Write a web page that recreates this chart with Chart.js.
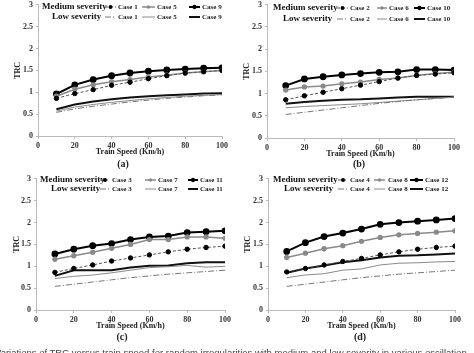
<!DOCTYPE html>
<html>
<head>
<meta charset="utf-8">
<script src="https://cdn.jsdelivr.net/npm/chart.js@4.4.1/dist/chart.umd.min.js"></script>
<style>
  body { margin: 0; background: #fff; width: 474px; height: 353px; overflow: hidden; position: relative; }
  .panel { position: absolute; }
  .sub { position: absolute; font: bold 10px "Liberation Serif", serif; color: #222; width: 40px; text-align: center; }
  #caption { position: absolute; left: -5px; top: 347px; white-space: nowrap; font: 9.5px "Liberation Sans", sans-serif; color: #444; }
</style>
</head>
<body>
<div class="panel" style="left:0;top:-3px"><canvas id="chartA" width="237" height="163"></canvas></div>
<div class="panel" style="left:237px;top:-3px"><canvas id="chartB" width="237" height="165"></canvas></div>
<div class="panel" style="left:0;top:171px"><canvas id="chartC" width="237" height="163"></canvas></div>
<div class="panel" style="left:237px;top:171px"><canvas id="chartD" width="237" height="163"></canvas></div>
<div class="sub" style="left:103px;top:158px">(a)</div>
<div class="sub" style="left:339px;top:158px">(b)</div>
<div class="sub" style="left:102px;top:331px">(c)</div>
<div class="sub" style="left:340px;top:331px">(d)</div>
<div id="caption">Variations of TRC versus train speed for random irregularities with medium and low severity in various oscillation</div>
<script>
// vitesses (axe X) et graduations
const speeds = [10, 20, 30, 40, 50, 60, 70, 80, 90, 100];
const xTicks = [0, 20, 40, 60, 80, 100];
const yTicks = [0, 0.5, 1, 1.5, 2, 2.5, 3];

// (a) cas 1, 5, 9
const medCase1 = [0.86, 0.97, 1.06, 1.16, 1.23, 1.31, 1.38, 1.44, 1.47, 1.50];
const medCase5 = [0.91, 1.07, 1.17, 1.24, 1.29, 1.35, 1.39, 1.44, 1.47, 1.50];
const medCase9 = [0.96, 1.17, 1.29, 1.38, 1.44, 1.48, 1.51, 1.53, 1.55, 1.56];
const lowCase1 = [0.54, 0.62, 0.68, 0.73, 0.78, 0.82, 0.86, 0.89, 0.92, 0.94];
const lowCase5 = [0.57, 0.66, 0.72, 0.77, 0.81, 0.85, 0.88, 0.91, 0.93, 0.95];
const lowCase9 = [0.61, 0.72, 0.79, 0.84, 0.88, 0.91, 0.93, 0.95, 0.97, 0.98];

// (b) cas 2, 6, 10
const medCase2 = [0.86, 0.95, 1.03, 1.11, 1.19, 1.27, 1.35, 1.41, 1.44, 1.47];
const medCase6 = [1.08, 1.15, 1.17, 1.22, 1.26, 1.32, 1.35, 1.41, 1.45, 1.48];
const medCase10 = [1.18, 1.33, 1.38, 1.42, 1.45, 1.48, 1.49, 1.54, 1.54, 1.53];
const lowCase2 = [0.53, 0.58, 0.63, 0.68, 0.73, 0.78, 0.82, 0.86, 0.89, 0.92];
const lowCase6 = [0.68, 0.71, 0.73, 0.75, 0.77, 0.80, 0.83, 0.86, 0.89, 0.92];
const lowCase10 = [0.77, 0.81, 0.84, 0.86, 0.87, 0.89, 0.91, 0.93, 0.93, 0.93];

// (c) cas 3, 7, 11
const medCase3 = [0.86, 0.95, 1.03, 1.12, 1.19, 1.26, 1.33, 1.39, 1.43, 1.46];
const medCase7 = [1.16, 1.24, 1.32, 1.41, 1.50, 1.61, 1.61, 1.67, 1.67, 1.64];
const medCase11 = [1.28, 1.39, 1.47, 1.52, 1.61, 1.67, 1.69, 1.77, 1.79, 1.81];
const lowCase3 = [0.54, 0.59, 0.64, 0.69, 0.74, 0.78, 0.82, 0.85, 0.88, 0.91];
const lowCase7 = [0.72, 0.77, 0.80, 0.85, 0.91, 0.97, 0.99, 1.02, 0.98, 1.00];
const lowCase11 = [0.78, 0.91, 0.91, 0.91, 0.97, 1.01, 1.02, 1.07, 1.09, 1.09];

// (d) cas 4, 8, 12
const medCase4 = [0.87, 0.95, 1.03, 1.11, 1.18, 1.26, 1.33, 1.39, 1.43, 1.46];
const medCase8 = [1.20, 1.30, 1.40, 1.47, 1.57, 1.66, 1.72, 1.75, 1.78, 1.81];
const medCase12 = [1.34, 1.54, 1.68, 1.76, 1.85, 1.96, 2.00, 2.03, 2.06, 2.09];
const lowCase4 = [0.54, 0.59, 0.64, 0.69, 0.74, 0.78, 0.82, 0.85, 0.88, 0.91];
const lowCase8 = [0.74, 0.80, 0.83, 0.91, 0.94, 1.03, 1.07, 1.08, 1.10, 1.11];
const lowCase12 = [0.85, 0.95, 1.02, 1.09, 1.14, 1.20, 1.24, 1.25, 1.27, 1.29];

// styles des séries
const medStyles = [
  { borderColor: '#555', borderWidth: 1, borderDash: [3, 2], pointBackgroundColor: '#000', pointBorderColor: '#000', pointRadius: 2.2 },
  { borderColor: '#8a8a8a', borderWidth: 1.5, borderDash: [], pointBackgroundColor: '#8a8a8a', pointBorderColor: '#8a8a8a', pointRadius: 1.9 },
  { borderColor: '#000', borderWidth: 2, borderDash: [], pointBackgroundColor: '#000', pointBorderColor: '#000', pointRadius: 2.4 }
];
const lowStyles = [
  { borderColor: '#777', borderWidth: 1, borderDash: [6, 2, 1, 2] },
  { borderColor: '#8a8a8a', borderWidth: 1, borderDash: [] },
  { borderColor: '#111', borderWidth: 2, borderDash: [] }
];

const serif = '"Liberation Serif", "Times New Roman", serif';

// légende "Medium severity / Low severity" dessinée dans le graphique
const sevLegend = {
  id: 'sevLegend',
  afterDraw(chart, args, opts) {
    const ctx = chart.ctx;
    ctx.save();
    ctx.fillStyle = '#111';
    ctx.textBaseline = 'middle';
    ctx.font = 'bold 9px ' + serif;
    ctx.fillText('Medium severity', opts.medX, opts.rowY[0]);
    ctx.fillText('Low severity', opts.lowX, opts.rowY[1]);
    ctx.font = 'bold 7px ' + serif;
    opts.cols.forEach(function(col, i) {
      [0, 1].forEach(function(row) {
        const st = row === 0 ? medStyles[i] : lowStyles[i];
        const y = opts.rowY[row];
        ctx.strokeStyle = st.borderColor;
        ctx.lineWidth = st.borderWidth;
        ctx.setLineDash(st.borderDash);
        ctx.beginPath();
        ctx.moveTo(col[0], y);
        ctx.lineTo(col[1], y);
        ctx.stroke();
        ctx.setLineDash([]);
        if (row === 0) {
          ctx.fillStyle = st.pointBackgroundColor;
          ctx.beginPath();
          ctx.arc((col[0] + col[1]) / 2, y, st.pointRadius * 0.9, 0, Math.PI * 2);
          ctx.fill();
        }
        ctx.fillStyle = '#222';
        ctx.fillText(opts.cases[i], col[2], y + 0.5);
      });
    });
    ctx.restore();
  }
};

function makeChart(id, cases, medium, low, lay) {
  const datasets = [];
  medium.forEach(function(vals, i) {
    datasets.push(Object.assign({
      label: 'Medium ' + cases[i],
      data: speeds.map(function(s, k) { return { x: s, y: vals[k] }; }),
      tension: 0, fill: false, pointStyle: 'circle'
    }, medStyles[i]));
  });
  low.forEach(function(vals, i) {
    datasets.push(Object.assign({
      label: 'Low ' + cases[i],
      data: speeds.map(function(s, k) { return { x: s, y: vals[k] }; }),
      tension: 0, fill: false, pointRadius: 0
    }, lowStyles[i]));
  });

  return new Chart(document.getElementById(id), {
    type: 'line',
    data: { datasets: datasets },
    plugins: [sevLegend],
    options: {
      responsive: false,
      animation: false,
      layout: { padding: { left: lay.padLeft, right: lay.padRight, top: 0, bottom: 0 } },
      plugins: {
        legend: { display: false },
        tooltip: { enabled: false },
        sevLegend: { cases: cases, medX: lay.medX, lowX: lay.lowX, rowY: lay.rowY, cols: lay.cols }
      },
      scales: {
        x: {
          type: 'linear', min: 0, max: 100,
          afterBuildTicks: function(s) { s.ticks = xTicks.map(function(v) { return { value: v }; }); },
          afterFit: function(s) { s.height = 24; },
          grid: { drawOnChartArea: false, color: '#bbb', tickLength: 3 },
          border: { color: '#bbb' },
          ticks: { color: '#333', padding: 2, maxRotation: 0, callback: function(v) { return String(v); },
                   font: { family: serif, size: 8, weight: 'bold' } },
          title: { display: true, text: 'Train Speed (Km/h)', color: '#222', padding: { top: 0, bottom: 3 }, font: { family: serif, size: 8, weight: 'bold' } }
        },
        y: {
          min: 0, max: 3,
          afterBuildTicks: function(s) { s.ticks = yTicks.map(function(v) { return { value: v }; }); },
          afterFit: function(s) { s.width = lay.yWidth; },
          grid: { drawOnChartArea: false, color: '#bbb', tickLength: 2 },
          border: { color: '#bbb' },
          ticks: { color: '#333', padding: 3, callback: function(v) { return String(v); },
                   font: { family: serif, size: 8, weight: 'bold' } },
          title: { display: true, text: 'TRC', color: '#222', padding: { top: 4, bottom: 0 }, font: { family: serif, size: 8, weight: 'bold' } }
        }
      }
    }
  });
}

makeChart('chartA', ['Case 1', 'Case 5', 'Case 9'], [medCase1, medCase5, medCase9], [lowCase1, lowCase5, lowCase9],
  { padLeft: 9, yWidth: 29, padRight: 15, medX: 42, lowX: 52, rowY: [10, 20], cols: [[105, 116, 118], [142, 155, 157], [189, 200, 202]] });
makeChart('chartB', ['Case 2', 'Case 6', 'Case 10'], [medCase2, medCase6, medCase10], [lowCase2, lowCase6, lowCase10],
  { padLeft: 1, yWidth: 29, padRight: 20, medX: 36, lowX: 46, rowY: [11, 22], cols: [[100, 111, 113], [140, 150, 152], [177, 188, 190]] });
makeChart('chartC', ['Case 3', 'Case 7', 'Case 11'], [medCase3, medCase7, medCase11], [lowCase3, lowCase7, lowCase11],
  { padLeft: 8, yWidth: 28, padRight: 12, medX: 40, lowX: 51, rowY: [9, 18], cols: [[100, 110, 112], [145, 156, 158], [188, 198, 200]] });
makeChart('chartD', ['Case 4', 'Case 8', 'Case 12'], [medCase4, medCase8, medCase12], [lowCase4, lowCase8, lowCase12],
  { padLeft: 2, yWidth: 29, padRight: 19, medX: 36, lowX: 47, rowY: [9, 18], cols: [[101, 111, 113], [137, 148, 151], [173, 186, 188]] });
</script>
</body>
</html>
